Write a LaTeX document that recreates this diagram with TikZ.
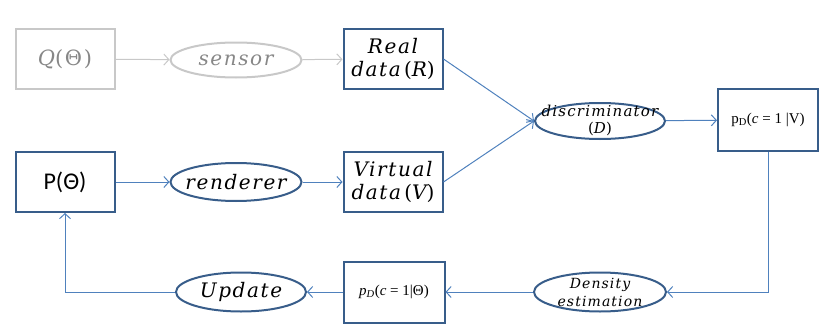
\documentclass[tikz,border=0pt]{standalone}
\usepackage{fontspec}
\usetikzlibrary{arrows.meta,shapes.geometric}
\newfontfamily\cmi[LetterSpace=8]{DejaVu Serif}
\newfontfamily\calib{Carlito}
\newfontfamily\tnr{Liberation Serif}
\definecolor{gborder}{RGB}{200,200,200}
\definecolor{gtext}{RGB}{135,135,135}
\definecolor{dblue}{RGB}{56,93,138}
\definecolor{ablue}{RGB}{79,129,189}
\tikzset{
  box/.style={draw=dblue, line width=2pt, minimum width=99pt, minimum height=60pt, inner sep=0pt, align=center},
  gbox/.style={box, draw=gborder},
  ell/.style={ellipse, draw=dblue, line width=2pt, inner sep=0pt},
  gell/.style={ell, draw=gborder},
  lbl/.style={align=center, inner sep=0pt},
  arr/.style={draw=ablue, line width=1pt, -{Straight Barb[length=5pt,width=11pt]}},
  garr/.style={arr, draw=gborder},
}
\begin{document}
\begin{tikzpicture}[x=1pt,y=-1pt]
\useasboundingbox (0,0) rectangle (828,332);
% top row
\node[gbox, text=gtext, font=\cmi\fontsize{21}{24}\selectfont] (Q) at (65,59) {\itshape Q\upshape(Θ)};
\node[gell, minimum width=131pt, minimum height=35pt] (S) at (236,60) {};
\node[lbl, text=gtext, font=\cmi\itshape\fontsize{20}{24}\selectfont] (St) at (S) {sensor};
\node[box, font=\cmi\fontsize{20}{23}\selectfont] (R) at (393,59) {\itshape Real\\\itshape data\,\upshape(\itshape R\upshape)};
% middle row
\node[box, font=\calib\fontsize{24}{28}\selectfont] (P) at (65,182) {P(Θ)};
\node[ell, minimum width=131pt, minimum height=38pt] (Rn) at (236,182) {};
\node[lbl, font=\cmi\itshape\fontsize{20}{24}\selectfont] (Rnt) at (Rn) {renderer};
\node[box, font=\cmi\fontsize{20}{23}\selectfont] (V) at (393,182) {\itshape Virtual\\\itshape data\,\upshape(\itshape V\upshape)};
\node[ell, minimum width=130pt, minimum height=36pt] (D) at (600,121) {};
\node[lbl, font=\cmi\itshape\fontsize{15}{17}\selectfont] (Dt) at (600,120) {discriminator\\\upshape(\itshape D\upshape)};
\node[box, minimum width=100pt, minimum height=62pt, font=\tnr\fontsize{15}{18}\selectfont] (PD) at (768,120) {p\textsubscript{D}(\textit{c} = 1 |V)};
% bottom row
\node[ell, minimum width=130pt, minimum height=39pt] (U) at (241,292) {};
\node[lbl, font=\cmi\itshape\fontsize{20}{24}\selectfont] (Ut) at (U) {Update};
\node[box, minimum width=101pt, minimum height=61pt, font=\tnr\fontsize{15}{18}\selectfont] (PT) at (394,292) {\textit{p}\textsubscript{\textit{D}}(\textit{c} = 1|Θ)};
\node[ell, minimum width=132pt, minimum height=39pt] (E) at (600,292) {};
\node[lbl, font=\cmi\itshape\fontsize{14}{18}\selectfont] (Et) at (600,292) {Density\\estimation};
% connectors
\draw[garr] (Q) -- (S);
\draw[garr] (S) -- (R);
\draw[arr] (P) -- (Rn);
\draw[arr] (Rn) -- (V);
\draw[arr] (R.east) -- (D.west);
\draw[arr] (V.east) -- (D.west);
\draw[arr] (D) -- (PD);
\draw[arr] (PD.south) |- (E.east);
\draw[arr] (E) -- (PT);
\draw[arr] (PT) -- (U);
\draw[arr] (U.west) -| (P.south);
\end{tikzpicture}
\end{document}
